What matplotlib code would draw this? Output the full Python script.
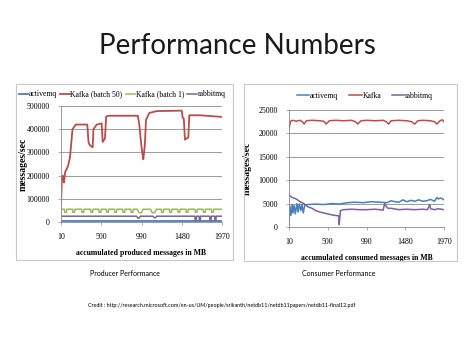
import numpy as np
import matplotlib.pyplot as plt
from matplotlib.patches import Rectangle

# producer performance (messages/sec vs accumulated MB)
prod_kafka50_x = [10, 20, 30, 40, 47, 60, 95, 120, 150, 190, 330, 345, 355, 370, 395, 405, 445, 505,
                  517, 545, 560, 600, 945, 963, 988, 1005, 1012, 1030, 1045, 1085, 1175, 1480, 1491,
                  1505, 1519, 1560, 1572, 1700, 1970]
prod_kafka50_y = [75000, 180000, 200000, 185000, 170000, 215000, 240000, 280000, 400000, 420000, 420000,
                  345000, 335000, 328000, 322000, 400000, 420000, 425000, 345000, 360000, 455000, 458000,
                  458000, 420000, 330000, 285000, 270000, 330000, 440000, 470000, 478000, 480000, 450000,
                  445000, 355000, 365000, 460000, 460000, 453000]

prod_kafka1_x = [10, 50, 55, 75, 80, 150, 155, 175, 180, 260, 265, 285, 290, 370, 375, 395, 400, 470,
                 475, 495, 500, 560, 565, 585, 590, 660, 665, 685, 690, 760, 765, 785, 790, 860, 865,
                 885, 890, 940, 960, 990, 1010, 1040, 1100, 1120, 1150, 1170, 1230, 1235, 1255, 1260,
                 1330, 1335, 1355, 1360, 1430, 1435, 1455, 1460, 1530, 1535, 1555, 1560, 1640, 1645,
                 1665, 1670, 1740, 1745, 1765, 1770, 1840, 1845, 1865, 1870, 1970]
prod_kafka1_y = [55000, 55000, 42000, 42000, 55000, 55000, 42000, 42000, 55000, 55000, 42000, 42000,
                 55000, 55000, 42000, 42000, 55000, 55000, 42000, 42000, 55000, 55000, 42000, 42000,
                 55000, 55000, 42000, 42000, 55000, 55000, 42000, 42000, 55000, 55000, 42000, 42000,
                 55000, 55000, 40000, 40000, 55000, 55000, 55000, 40000, 40000, 55000, 55000, 42000,
                 42000, 55000, 55000, 42000, 42000, 55000, 55000, 42000, 42000, 55000, 55000, 42000,
                 42000, 55000, 55000, 42000, 42000, 55000, 55000, 42000, 42000, 55000, 55000, 42000,
                 42000, 55000, 55000]

prod_rabbit_x = [10, 930, 945, 960, 975, 1130, 1145, 1160, 1175, 1640, 1645, 1655, 1660, 1690, 1695,
                 1705, 1710, 1820, 1825, 1835, 1840, 1880, 1885, 1895, 1900, 1970]
prod_rabbit_y = [25000, 25000, 17000, 16000, 25000, 25000, 19000, 18000, 25000, 25000, 6000, 6000,
                 25000, 25000, 6000, 6000, 25000, 25000, 6000, 6000, 25000, 25000, 8000, 8000,
                 25000, 25000]

prod_active_x = [10, 1970]
prod_active_y = [4000, 4000]

# consumer performance
cons_kafka_x = [10, 30, 60, 100, 150, 180, 200, 230, 300, 400, 450, 480, 520, 600, 700, 800, 850,
                880, 920, 1000, 1100, 1200, 1240, 1270, 1300, 1400, 1500, 1560, 1600, 1640, 1700,
                1800, 1850, 1880, 1920, 1950, 1970]
cons_kafka_y = [21000, 22600, 22800, 22600, 22800, 22500, 22000, 22700, 22800, 22700, 22600, 22000,
                22700, 22800, 22700, 22800, 22500, 22000, 22700, 22800, 22700, 22800, 22500, 22000,
                22700, 22800, 22700, 22500, 22000, 22700, 22800, 22700, 22500, 22000, 22700, 22900,
                22500]

cons_active_x = [10, 20, 35, 50, 60, 75, 90, 110, 125, 140, 160, 175, 190, 210, 250, 350, 450, 550,
                 650, 750, 850, 950, 1050, 1150, 1250, 1300, 1350, 1400, 1450, 1500, 1550, 1600, 1650,
                 1700, 1750, 1800, 1850, 1880, 1900, 1930, 1970]
cons_active_y = [500, 4500, 2500, 4800, 3000, 4600, 2800, 5000, 3200, 4900, 3500, 4800, 3000, 4700,
                 4800, 4900, 4800, 5000, 4900, 5200, 5300, 5200, 5400, 5300, 5200, 5600, 5400, 5300,
                 5800, 5400, 5700, 5500, 5800, 5500, 5600, 5900, 5500, 6300, 6000, 6200, 5800]

cons_rabbit_x = [10, 50, 100, 150, 200, 250, 300, 350, 400, 450, 500, 550, 620, 640, 645, 660, 700,
                 800, 900, 1000, 1100, 1200, 1220, 1240, 1260, 1300, 1400, 1500, 1600, 1700, 1760,
                 1790, 1800, 1850, 1900, 1970]
cons_rabbit_y = [6800, 6300, 6000, 5400, 5000, 4300, 4000, 3500, 3200, 3000, 2800, 2600, 2400, 2400,
                 500, 3500, 3700, 3800, 3700, 3700, 3800, 3600, 5000, 4400, 4000, 4000, 3700, 3800,
                 3700, 3800, 3700, 4800, 3900, 3700, 3900, 3700]

x_ticks = [10, 500, 990, 1480, 1970]
blue, red, green, purple = '#4a7ebb', '#be4b48', '#98b954', '#7d60a0'
grid_c = '#8c8c8c'

fig = plt.figure(figsize=(4.74, 3.55), dpi=100)
fig.patch.set_facecolor('white')

fig.text(0.5, 0.87, 'Performance Numbers', ha='center', va='center', fontsize=20,
         family='Lato', color='#1a1a1a')

# chart frames
for x0, y0, x1, y1 in [(16, 84, 233, 260), (244, 84, 457, 261)]:
    fig.patches.append(Rectangle((x0 / 474, 1 - y1 / 355), (x1 - x0) / 474, (y1 - y0) / 355,
                                 transform=fig.transFigure, fill=False, edgecolor='#c8c8c8', lw=0.8))


def style_axis(ax, ymax, ystep, xlabel):
    ax.set_xlim(10, 1970)
    ax.set_ylim(0, ymax)
    ax.set_yticks(np.arange(0, ymax + 1, ystep))
    ax.set_xticks(x_ticks)
    ax.grid(axis='y', color=grid_c, lw=0.6)
    ax.set_axisbelow(True)
    for s in ['top', 'right']:
        ax.spines[s].set_visible(False)
    for s in ['left', 'bottom']:
        ax.spines[s].set_color(grid_c)
        ax.spines[s].set_linewidth(0.6)
    ax.tick_params(length=2, width=0.5, color=grid_c, labelsize=5.7, pad=6)
    for lab in ax.get_xticklabels() + ax.get_yticklabels():
        lab.set_family('Liberation Serif')
    ax.set_ylabel('messages/sec', family='Liberation Serif', fontweight='bold', fontsize=7)
    ax.set_xlabel(xlabel, family='Liberation Serif', fontweight='bold', fontsize=5.6, labelpad=6)


ax1 = fig.add_axes([61 / 474, 1 - 222 / 355, 161 / 474, 116 / 355])
ax1.plot(prod_active_x, prod_active_y, color=blue, lw=1.3, label='activemq')
ax1.plot(prod_kafka50_x, prod_kafka50_y, color=red, lw=1.3, label='Kafka (batch 50)')
ax1.plot(prod_kafka1_x, prod_kafka1_y, color=green, lw=1.1, label='Kafka (batch 1)')
ax1.plot(prod_rabbit_x, prod_rabbit_y, color=purple, lw=1.1, label='rabbitmq')
style_axis(ax1, 500000, 100000, 'accumulated produced messages in MB')
ax1.yaxis.set_label_coords(-0.21, 0.5)
ax1.legend(loc='center', bbox_to_anchor=(0.38, 1.1), ncol=4, frameon=False, handlelength=1.2,
           handletextpad=0.1, columnspacing=0.4, prop={'family': 'Liberation Serif', 'size': 5.6})

ax2 = fig.add_axes([289 / 474, 1 - 227 / 355, 155 / 474, 117 / 355])
ax2.plot(cons_active_x, cons_active_y, color=blue, lw=1.1, label='activemq')
ax2.plot(cons_kafka_x, cons_kafka_y, color=red, lw=1.1, label='Kafka')
ax2.plot(cons_rabbit_x, cons_rabbit_y, color=purple, lw=1.1, label='rabbitmq')
style_axis(ax2, 25000, 5000, 'accumulated consumed messages in MB')
ax2.yaxis.set_label_coords(-0.24, 0.5)
ax2.legend(loc='center', bbox_to_anchor=(0.49, 1.12), ncol=3, frameon=False, handlelength=1.6,
           handletextpad=0.1, columnspacing=1.4, prop={'family': 'Liberation Serif', 'size': 5.6})

fig.text(125 / 474, 1 - 274 / 355, 'Producer Performance', ha='center', va='center',
         fontsize=5, family='Lato')
fig.text(339 / 474, 1 - 274 / 355, 'Consumer Performance', ha='center', va='center',
         fontsize=5, family='Lato')
fig.text(88 / 474, 1 - 305 / 355,
         'Credit : http://research.microsoft.com/en-us/UM/people/srikanth/netdb11/netdb11papers/netdb11-final12.pdf',
         ha='left', va='center', fontsize=3.9, family='Lato')

fig.savefig('out.png', dpi=100)
